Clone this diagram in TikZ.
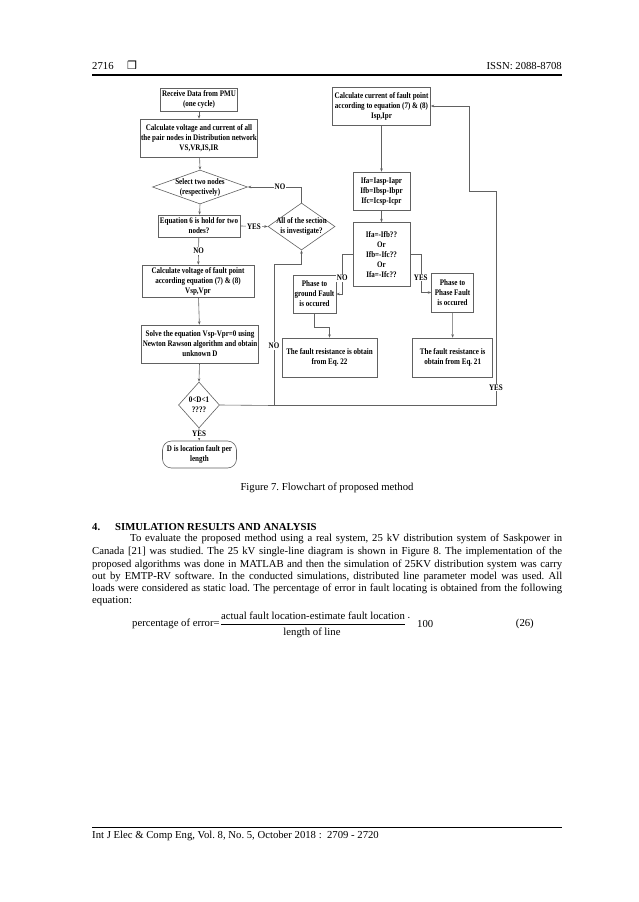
\documentclass[tikz,border=0pt]{standalone}
\usepackage{fontspec}
\setmainfont{Liberation Serif}
\newfontfamily\fcfont[FakeStretch=0.83,UprightFont=* Bold]{Liberation Serif}
\newfontfamily\symfont{DejaVu Sans}
\usetikzlibrary{shapes.geometric,arrows.meta}
\frenchspacing
\begin{document}
\begin{tikzpicture}[x=1pt,y=-1pt,
  ln/.style={draw=black!62, line width=0.6pt},
  fbox/.style={ln, rectangle, align=center, inner sep=0pt,
    font=\fcfont\fontsize{8.5}{10}\selectfont},
  dia/.style={ln, diamond, inner sep=0pt, aspect=1},
  ftext/.style={align=center, inner sep=0pt, font=\fcfont\fontsize{8.5}{10}\selectfont},
  conn/.style={ln, -{Stealth[length=3.4pt,width=2.6pt]}},
  plain/.style={ln},
  lbl/.style={fill=white, inner sep=0.8pt, font=\fcfont\fontsize{8.5}{9}\selectfont},
  body/.style={inner sep=0pt, font=\fontsize{10.7}{12.3}\selectfont},
]
\useasboundingbox (0,0) rectangle (638,902);
\fill[white] (0,0) rectangle (638,902);

% ---------- header ----------
\node[body, anchor=west] (pgno) at (92,66) {2716};
\node[inner sep=0pt, anchor=west, font=\symfont\fontsize{11}{12}\selectfont] (sq) at (127,65.5) {❒};
\node[body, anchor=east] (issn) at (562,66) {ISSN: 2088-8708};
\draw[line width=1.4pt] (92,75) coordinate (hr1) -- (562,75) coordinate (hr2);

% ---------- flowchart: left column ----------
\node[fbox, minimum width=77pt, minimum height=23pt] (recv) at (199,99.5)
  {Receive Data from PMU\\(one cycle)};
\node[fbox, minimum width=117pt, minimum height=38pt] (calcvi) at (199,138)
  {Calculate voltage and current of all\\the pair nodes in Distribution network\\VS,VR,IS,IR};
\node[dia, minimum width=95pt, minimum height=34pt] (sel) at (200,187) {};
\node[ftext] (selT) at (200,187) {Select two nodes\\(respectively)};
\node[fbox, minimum width=82pt, minimum height=22pt] (eq6) at (199,226)
  {Equation 6 is hold for two\\nodes?};
\node[dia, minimum width=67pt, minimum height=47pt] (all) at (301.5,226.5) {};
\node[ftext] (allT) at (301.5,226.5) {All of the section\\is investigate?};
\node[fbox, minimum width=112pt, minimum height=32pt] (cvp) at (198,281)
  {Calculate voltage of fault point\\according equation (7) \& (8)\\Vsp,Vpr};
\node[fbox, minimum width=117pt, minimum height=38pt] (solve) at (200,344)
  {Solve the equation Vsp-Vpr=0 using\\Newton Rawson algorithm and obtain\\unknown D};
\node[dia, minimum width=41pt, minimum height=46pt] (dd) at (199,405) {};
\node[ftext] (ddT) at (199,405) {0<D<1\\????};
\node[fbox, rounded corners=9pt, minimum width=74pt, minimum height=27pt] (term) at (199.5,454.5)
  {D is location fault per\\length};

% ---------- flowchart: right column ----------
\node[fbox, minimum width=98pt, minimum height=38pt] (ci) at (381.5,106)
  {Calculate current of fault point\\according to equation (7) \& (8)\\Isp,Ipr};
\node[fbox, minimum width=57pt, minimum height=38pt] (ifa) at (381.5,191)
  {Ifa=Iasp-Iapr\\Ifb=Ibsp-Ibpr\\Ifc=Icsp-Icpr};
\node[fbox, minimum width=57pt, minimum height=64pt] (cond) at (381.5,254.5)
  {Ifa=-Ifb??\\Or\\Ifb=-Ifc??\\Or\\Ifa=-Ifc??};
\node[fbox, minimum width=43pt, minimum height=38pt] (pg) at (314.5,294)
  {Phase to\\ground Fault\\is occured};
\node[fbox, minimum width=42pt, minimum height=39pt] (pp) at (452.5,292.5)
  {Phase to\\Phase Fault\\is occured};
\node[fbox, minimum width=95pt, minimum height=39pt] (eq22) at (329.5,357.5)
  {The fault resistance is obtain\\from Eq. 22};
\node[fbox, minimum width=80pt, minimum height=39pt] (eq21) at (452.7,357.5)
  {The fault resistance is\\obtain from Eq. 21};

% ---------- connectors ----------
\draw[conn] (recv) -- (calcvi);
\draw[conn] (calcvi) -- (sel.north);
\draw[conn] (sel.south) -- (eq6);
\draw[conn] (eq6.east) -- node[lbl]{YES} (all.west);
\draw[conn] (all.north) |- node[lbl, pos=0.7]{NO} (sel.east);
\draw[conn] (eq6) -- node[lbl]{NO} (cvp);
\draw[conn] (cvp) -- (solve);
\draw[conn] (solve) -- (dd.north);
\draw[conn] (dd.south) -- node[lbl, pos=0.45]{YES} (term);

\coordinate (j1) at (274,405.5);
\coordinate (j2) at (274,264);
\coordinate (k1) at (496,405.5);
\coordinate (k2) at (496,191);
\coordinate (k3) at (469,191);
\draw[plain] (dd.east) -- (j1);
\draw[conn] (j1) -- node[lbl, pos=0.42]{NO} (j2) -| (all.south);
\draw[conn] (j1) -- (k1) -- node[lbl, pos=0.085]{YES} (k2) -- (k3) |- (ci.east);

\draw[conn] (ci) -- (ifa);
\draw[conn] (ifa) -- (cond);
\draw[conn] (cond.west) -- ++(-10.5,0) |- node[lbl, pos=0.3]{NO} (pg.east);
\draw[conn] (cond.east) -- ++(10.5,0) |- node[lbl, pos=0.3]{YES} (pp.west);
\draw[conn] (pg.south) -- ++(0,13.5) -| (eq22.north);
\draw[conn] (pp) -- (eq21);

% ---------- caption and text ----------
\node[body] (cap) at (327,488) {Figure 7. Flowchart of proposed method};
\node[body, anchor=west, font=\bfseries\fontsize{10.7}{12.3}\selectfont] (secno) at (92,526.7) {4.};
\node[body, anchor=west, font=\bfseries\fontsize{10.7}{12.3}\selectfont] (sec) at (115,526.7) {SIMULATION RESULTS AND ANALYSIS};
\node[body, anchor=west] (l1) at (130,539.3) {\hbox to 432pt{To evaluate the proposed method using a real system, 25 kV distribution system of Saskpower in}};
\node[body, anchor=west] (l2) at (92,552) {\hbox to 470pt{Canada [21] was studied. The 25 kV single-line diagram is shown in Figure 8. The implementation of the}};
\node[body, anchor=west] (l3) at (92,564.5) {\hbox to 470pt{proposed algorithms was done in MATLAB and then the simulation of 25KV distribution system was carry}};
\node[body, anchor=west] (l4) at (92,576.7) {\hbox to 470pt{out by EMTP-RV software. In the conducted simulations, distributed line parameter model was used. All}};
\node[body, anchor=west] (l5) at (92,589) {\hbox to 470pt{loads were considered as static load. The percentage of error in fault locating is obtained from the following}};
\node[body, anchor=west] (l6) at (92,601) {equation:};

\node[body, anchor=west] (eql) at (132,624) {percentage of error=};
\node[body] (num) at (313,615.5) {actual fault location-estimate fault location};
\draw[line width=0.5pt] (num.south west) ++(0,5) coordinate (fb1) -- (num.south east |- fb1) coordinate (fb2);
\node[body] (den) at (312,633) {length of line};
\node[body] (dot) at (409,619) {·};
\node[body, anchor=west] (hund) at (417,623.5) {100};
\node[body, anchor=east] (eqno) at (534,624) {(26)};

% ---------- footer ----------
\draw[line width=0.8pt] (92,827) coordinate (fr1) -- (562,827) coordinate (fr2);
\node[body, anchor=west] (foot) at (92,835.5) {Int J Elec \& Comp Eng, Vol. 8, No. 5, October 2018 :\ \ 2709 - 2720};
\end{tikzpicture}
\end{document}
